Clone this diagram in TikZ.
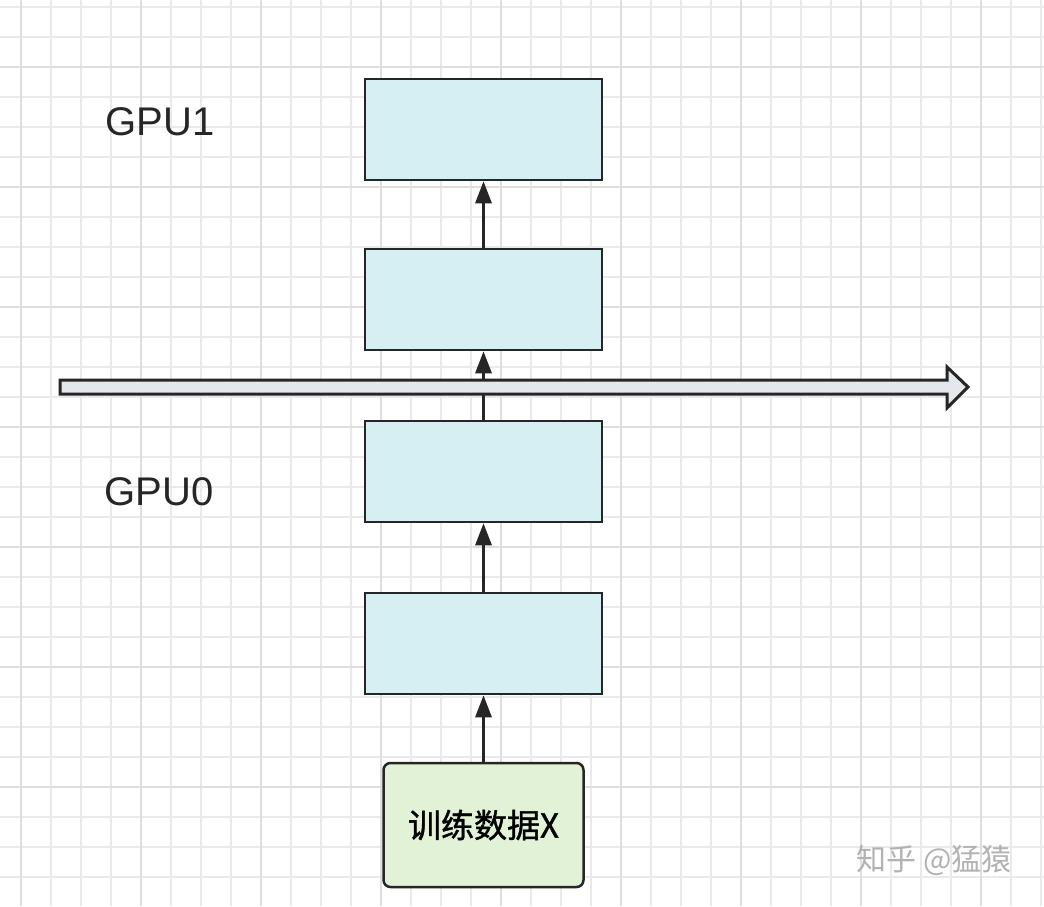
\documentclass[tikz,border=0pt]{standalone}
\usepackage{fontspec}
\setsansfont{Liberation Sans}
\newfontfamily\cjk{Noto Sans CJK SC}[FakeBold=1.2]
\newfontfamily\cjkmark{Noto Sans CJK SC}
\usetikzlibrary{arrows.meta}
\definecolor{gridminor}{HTML}{EAEAEA}
\definecolor{gridmajor}{HTML}{DEDEDE}
\definecolor{layerfill}{HTML}{D5EFF3}
\definecolor{datafill}{HTML}{E1F2D6}
\definecolor{pipefill}{HTML}{E4E7EB}

\begin{document}
\begin{tikzpicture}[x=1pt,y=-1pt,
  font=\sffamily,
  layer/.style={draw=black!85,line width=2.5pt,fill=layerfill,minimum width=237pt,minimum height=101pt},
  data/.style={draw=black!85,line width=2.5pt,fill=datafill,rounded corners=7pt,minimum width=200pt,minimum height=124pt,font=\cjk\fontsize{33}{38}\selectfont},
  gpu/.style={font=\sffamily\fontsize{40}{44}\selectfont,text=black!85},
  flow/.style={draw=black!85,line width=3pt,-{Triangle[width=16pt,length=22pt]}},
  pipe/.style={draw=black!85,line width=3pt,fill=pipefill,line join=miter}]

%background and grid
    \fill[white] (0,0) rectangle (1044,906);
    \useasboundingbox (0,0) rectangle (1044,906);
    \foreach \x in {21,51,...,1041}
    \draw[gridminor,line width=2pt] (\x,0) -- (\x,906);
    \foreach \y in {7,37,...,877}
    \draw[gridminor,line width=2pt] (0,\y) -- (1044,\y);
    \foreach \x in {21,141,...,981}
    \draw[gridmajor,line width=2pt] (\x,0) -- (\x,906);
    \foreach \y in {67,187,...,787}
    \draw[gridmajor,line width=2pt] (0,\y) -- (1044,\y);

%layers
    \node[layer] (g1b) at (483.5,129.5) {};
    \node[layer] (g1a) at (483.5,299.5) {};
    \node[layer] (g0b) at (483.5,471.5) {};
    \node[layer] (g0a) at (483.5,643.5) {};
    \node[data] (x) at (483.5,825) {训练数据X};

%device labels
    \node[gpu] (gpu1) at (160,122) {GPU1};
    \node[gpu] (gpu0) at (159,492) {GPU0};

%forward pass
    \draw[flow] (x.north) -- (g0a.south);
    \draw[flow] (g0a.north) -- (g0b.south);
    \draw[flow] (g0b.north) -- (g1a.south);
    \draw[flow] (g1a.north) -- (g1b.south);

%split between devices
    \draw[pipe] (60,380) -- (947,380) -- (947,367) -- (968,387) -- (947,408) -- (947,394) -- (60,394) -- cycle;

%watermark
    \node[font=\cjkmark\fontsize{30}{34}\selectfont,text=black!30] (mark) at (934,860) {知乎 @猛猿};

    \end{tikzpicture}
\end{document}
